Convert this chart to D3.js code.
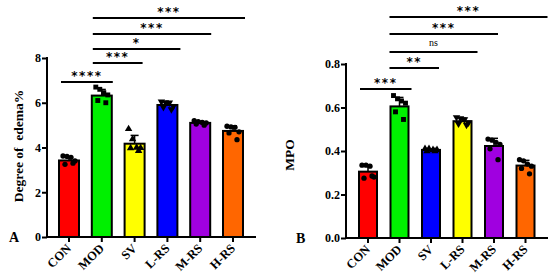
<!DOCTYPE html>
<html><head><meta charset="utf-8">
<script src="https://cdn.jsdelivr.net/npm/d3@7"></script>
<style>
html,body{margin:0;padding:0;background:#fff;}
svg{display:block;font-family:"Liberation Serif","Times New Roman",serif;}
</style>
</head><body>
<svg id="chart" width="550" height="280"></svg>
<script>
// ---------- Data ----------
const categoriesA = ["CON","MOD","SV","L-RS","M-RS","H-RS"];
const meansA = [3.42, 6.32, 4.17, 5.90, 5.10, 4.74];
const pointsA = [
  [3.62, 3.60, 3.56, 3.40, 3.25, 3.30],
  [6.70, 6.60, 6.45, 6.35, 6.10, 6.00],
  [4.83, 4.38, 4.00, 3.98, 3.97, 3.85],
  [6.05, 6.02, 6.00, 5.85, 5.80, 5.70],
  [5.20, 5.15, 5.12, 5.10, 5.05, 5.00],
  [4.95, 4.92, 4.90, 4.70, 4.65, 4.35]
];
const ticksA = [0, 2, 4, 6, 8];
const sigA = [
  {from: "CON", to: "MOD", label: "****"},
  {from: "MOD", to: "SV", label: "***"},
  {from: "MOD", to: "L-RS", label: "*"},
  {from: "MOD", to: "M-RS", label: "***"},
  {from: "MOD", to: "H-RS", label: "***"}
];

const categoriesB = ["CON","MOD","SV","L-RS","M-RS","H-RS"];
const meansB = [0.305, 0.605, 0.405, 0.537, 0.423, 0.333];
const pointsB = [
  [0.335, 0.335, 0.330, 0.280, 0.275, 0.285],
  [0.655, 0.640, 0.630, 0.620, 0.580, 0.545],
  [0.410, 0.410, 0.405, 0.405, 0.400, 0.400],
  [0.555, 0.550, 0.545, 0.530, 0.525, 0.520],
  [0.455, 0.450, 0.440, 0.430, 0.410, 0.360],
  [0.360, 0.355, 0.340, 0.330, 0.320, 0.295]
];
const ticksB = [0.0, 0.2, 0.4, 0.6, 0.8];
const sigB = [
  {from: "CON", to: "MOD", label: "***"},
  {from: "MOD", to: "SV", label: "**"},
  {from: "MOD", to: "L-RS", label: "ns"},
  {from: "MOD", to: "M-RS", label: "***"},
  {from: "MOD", to: "H-RS", label: "***"}
];

// ---------- Styles ----------
const colorsA = ["#ff0000","#00f000","#ffff00","#0000ff","#a000e0","#ff6600"];
const colorsB = ["#ff0000","#00f000","#0000ff","#ffff00","#a000e0","#ff6600"];
const markersA = ["circle","square","triangle","triangleDown","circle","circle"];
const markersB = ["circle","square","triangle","triangleDown","circle","circle"];

const svg = d3.select("#chart");

function drawPanel(cfg) {
  const g = svg.append("g");
  const x = d3.scalePoint().domain(cfg.cats).range(cfg.xRange);
  const y = d3.scaleLinear().domain(cfg.yDomain).range(cfg.yRange);
  const bw = cfg.barWidth;

  // error bars (upper)
  cfg.cats.forEach((c, i) => {
    const sd = d3.deviation(cfg.points[i]);
    const m = cfg.means[i];
    g.append("line").attr("x1", x(c)).attr("x2", x(c))
      .attr("y1", y(m)).attr("y2", y(m + sd)).attr("stroke", "#000").attr("stroke-width", 1.5);
    g.append("line").attr("x1", x(c) - 4).attr("x2", x(c) + 4)
      .attr("y1", y(m + sd)).attr("y2", y(m + sd)).attr("stroke", "#000").attr("stroke-width", 1.5);
  });

  // bars
  g.selectAll("rect.bar").data(cfg.cats).join("rect")
    .attr("x", c => x(c) - bw / 2)
    .attr("y", (c, i) => y(cfg.means[i]))
    .attr("width", bw)
    .attr("height", (c, i) => y(0) - y(cfg.means[i]))
    .attr("fill", (c, i) => cfg.colors[i])
    .attr("stroke", "#000").attr("stroke-width", 2);

  // points
  const offs = [-6, -2, 2, 6, -4, 4];
  const symMap = {circle: d3.symbolCircle, square: d3.symbolSquare, triangle: d3.symbolTriangle, triangleDown: d3.symbolTriangle};
  cfg.cats.forEach((c, i) => {
    const type = cfg.markers[i];
    const sym = d3.symbol().type(symMap[type]).size(type === "circle" ? 22 : 24);
    cfg.points[i].forEach((v, j) => {
      g.append("path").attr("d", sym)
        .attr("transform", `translate(${x(c) + offs[j]},${y(v)})` + (type === "triangleDown" ? " rotate(180)" : ""))
        .attr("fill", "#000");
    });
  });

  // y axis
  const yAxis = d3.axisLeft(y).tickValues(cfg.ticks).tickSize(5).tickSizeOuter(0).tickFormat(cfg.fmt);
  const ya = g.append("g").attr("transform", `translate(${cfg.xAxisStart},0)`).call(yAxis);
  ya.select(".domain").attr("stroke-width", 2).attr("d", `M0,${y(0) + 1}V${y(cfg.yDomain[1]) - 1}`);
  ya.selectAll(".tick line").attr("stroke-width", 2);
  ya.selectAll(".tick text").attr("font-size", 12).attr("font-weight", "bold")
    .attr("font-family", "Liberation Serif").attr("x", -6);

  // x axis
  const xa = g.append("g").attr("transform", `translate(0,${y(0)})`);
  xa.append("line").attr("x1", cfg.xAxisStart - 1).attr("x2", cfg.xAxisEnd)
    .attr("y1", 0).attr("y2", 0).attr("stroke", "#000").attr("stroke-width", 2);
  cfg.cats.forEach(c => {
    xa.append("line").attr("x1", x(c)).attr("x2", x(c)).attr("y1", 0).attr("y2", 5)
      .attr("stroke", "#000").attr("stroke-width", 2);
    xa.append("text").attr("transform", `translate(${x(c) + 3},${12}) rotate(-45)`)
      .attr("text-anchor", "end").attr("font-size", 12.5).attr("font-weight", "bold")
      .attr("font-family", "Liberation Serif").text(c);
  });

  // y label
  g.append("text").attr("transform", `translate(${cfg.yLabelX},${cfg.yLabelY}) rotate(-90)`)
    .attr("text-anchor", "middle").attr("font-size", 13.5).attr("font-weight", "bold")
    .attr("font-family", "Liberation Serif").attr("xml:space", "preserve")
    .style("white-space", "pre").text(cfg.yLabel);

  // panel letter
  g.append("text").attr("x", cfg.letterX).attr("y", cfg.letterY)
    .attr("font-size", 14).attr("font-weight", "bold").attr("font-family", "Liberation Serif")
    .text(cfg.letter);

  // significance
  cfg.sig.forEach((s, k) => {
    const ly = cfg.sigY[k];
    const x1 = x(s.from) - cfg.sigL[k];
    const x2 = x(s.to) + cfg.sigR[k];
    g.append("line").attr("x1", x1).attr("x2", x2).attr("y1", ly).attr("y2", ly)
      .attr("stroke", "#000").attr("stroke-width", 2);
    const isNs = s.label === "ns";
    g.append("text").attr("x", (x1 + x2) / 2).attr("y", isNs ? ly - 6 : ly - 2)
      .attr("text-anchor", "middle")
      .attr("font-size", isNs ? 10 : 12).attr("font-weight", isNs ? "normal" : "bold")
      .attr("font-family", isNs ? "Liberation Serif" : "DejaVu Sans")
      .attr("letter-spacing", isNs ? 0 : 1.5)
      .text(s.label);
  });
}

drawPanel({
  cats: categoriesA, means: meansA, points: pointsA, ticks: ticksA, sig: sigA,
  colors: colorsA, markers: markersA, fmt: d3.format("d"),
  xRange: [69, 233], yDomain: [0, 8], yRange: [237, 58], barWidth: 20,
  xAxisStart: 47, xAxisEnd: 256,
  yLabel: "Degree of  edema%", yLabelX: 23, yLabelY: 146,
  letter: "A", letterX: 9, letterY: 242,
  sigY: [82, 63, 49, 34, 18],
  sigL: [8, 9, 9, 9, 9],
  sigR: [11, 8, 13, 11, 12]
});

drawPanel({
  cats: categoriesB, means: meansB, points: pointsB, ticks: ticksB, sig: sigB,
  colors: colorsB, markers: markersB, fmt: d3.format(".1f"),
  xRange: [368, 525.5], yDomain: [0, 0.8], yRange: [238, 64], barWidth: 18,
  xAxisStart: 346, xAxisEnd: 548,
  yLabel: "MPO", yLabelX: 294, yLabelY: 155,
  letter: "B", letterX: 296, letterY: 243,
  sigY: [89, 68, 52, 34, 17],
  sigL: [8, 10, 10, 10, 10],
  sigR: [12, 8, 15, 4, 22]
});
</script>
</body></html>
